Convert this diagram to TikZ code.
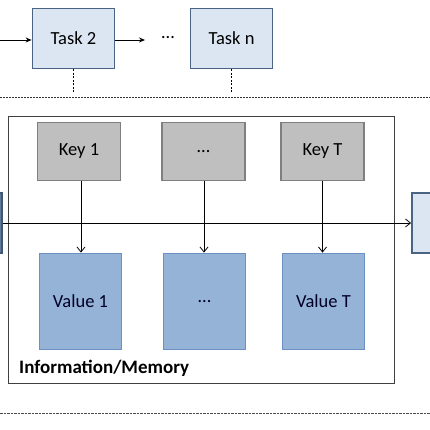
\documentclass[tikz,border=0pt]{standalone}
\usepackage{fontspec}
\setmainfont{Carlito}
\usetikzlibrary{arrows.meta}
\definecolor{taskfill}{HTML}{DCE6F2}
\definecolor{taskdraw}{HTML}{4A6584}
\definecolor{keyfill}{HTML}{BFBFBF}
\definecolor{keydraw}{HTML}{7F7F7F}
\definecolor{valfill}{HTML}{95B3D7}
\definecolor{valdraw}{HTML}{6C8FC4}
\definecolor{leftdraw}{HTML}{3F5878}
\tikzset{
  boxfont/.style={font=\fontsize{18.5}{22}\selectfont},
  taskbox/.style={draw=taskdraw, fill=taskfill, line width=1.8pt, minimum width=82pt, minimum height=60pt, inner sep=0pt, boxfont},
  keybox/.style={draw=keydraw, fill=keyfill, line width=1.8pt, minimum width=83pt, minimum height=58pt, inner sep=0pt, boxfont},
  valbox/.style={draw=valdraw, fill=valfill, line width=1.8pt, minimum width=82pt, minimum height=96pt, inner sep=0pt, boxfont, text=black!85!blue},
  membox/.style={draw=black!75, line width=0.8pt, minimum width=386pt, minimum height=267pt, inner sep=0pt},
  conn/.style={line width=0.8pt, -{Straight Barb[length=5pt,width=8pt]}},
  topconn/.style={line width=0.9pt, -{Stealth[length=6pt,width=5pt]}},
  vdash/.style={line width=0.8pt, dash pattern=on 2pt off 1.5pt},
  hsep/.style={line width=1pt, dash pattern=on 2pt off 1pt, black!80},
}
\begin{document}
\begin{tikzpicture}[x=1pt,y=-1pt]
\useasboundingbox (0,0) rectangle (430,430);
\clip (0,0) rectangle (430,430);
\fill[white] (0,0) rectangle (430,430);

% top row
\coordinate (prev) at (-10,40);
\node[taskbox] (t2) at (73.5,38.5) {Task 2};
\node[taskbox] (tn) at (231.5,38.5) {Task n};
\coordinate (t2end) at (145,40);
\node[boxfont] (tdots) at (168,38) {…};
\draw[topconn] (prev) -- (t2.west |- prev);
\draw[topconn] (t2.east |- prev) -- (t2end);
\coordinate (t2d) at (t2.south |- 0,92);
\coordinate (tnd) at (tn.south |- 0,92);
\draw[vdash] (t2.south) -- (t2d);
\draw[vdash] (tn.south) -- (tnd);

% separators
\coordinate (s1a) at (0,98);
\coordinate (s1b) at (430,98);
\draw[hsep] (s1a) -- (s1b);
\coordinate (s2a) at (0,413);
\coordinate (s2b) at (430,413);
\draw[line width=0.8pt, dash pattern=on 2.5pt off 1pt, black!70] (s2a) -- (s2b);

% memory
\node[membox] (mem) at (201,249.5) {};
\node[anchor=west, font=\bfseries\fontsize{19}{22}\selectfont, inner sep=0pt] (memlabel) at (19,368) {Information/Memory};

\node[keybox] (k1) at (79,151.5) {Key 1};
\node[keybox] (k2) at (203.5,151.5) {…};
\node[keybox] (k3) at (322.5,151.5) {Key T};
\node[valbox] (v1) at (80.5,301.5) {Value 1};
\node[valbox] (v2) at (204.5,301.5) {…};
\node[valbox] (v3) at (323.5,301.5) {Value T};

% side boxes and horizontal arrow
\node[draw=leftdraw, fill=leftdraw!80, line width=1.6pt, minimum width=46pt, minimum height=60pt] (lb) at (-21,223) {};
\node[draw=taskdraw, fill=taskfill, line width=1.8pt, minimum width=56pt, minimum height=60pt] (rb) at (440,223) {};
\draw[conn] (lb.east) -- (rb.west);

\draw[conn] (k1.south) ++(2,0) coordinate (k1s) -- (k1s |- v1.north);
\draw[conn] (k2.south) ++(0.5,0) coordinate (k2s) -- (k2s |- v2.north);
\draw[conn] (k3.south) ++(0,0) coordinate (k3s) -- (k3s |- v3.north);
\end{tikzpicture}
\end{document}
